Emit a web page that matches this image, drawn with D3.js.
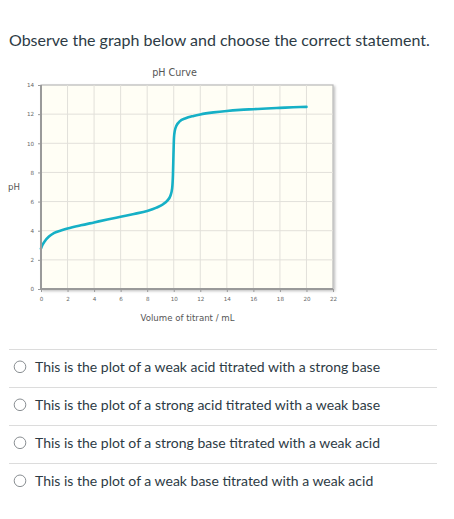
<!DOCTYPE html>
<html><head><meta charset="utf-8">
<script src="https://cdn.jsdelivr.net/npm/d3@7"></script>
<style>
body{margin:0;background:#fff;}
svg{display:block;}
</style></head>
<body>
<svg id="c" width="454" height="519"></svg>
<script>
const questionText = "Observe the graph below and choose the correct statement.";
const chartTitle = "pH Curve";
const xLabel = "Volume of titrant / mL";
const yLabel = "pH";
const xTicks = [0,2,4,6,8,10,12,14,16,18,20,22];
const yTicks = [0,2,4,6,8,10,12,14];
const volume = [0,0.1,0.3,0.6,1,1.5,2,3,4,5,6,7,8,8.7,9.2,9.5,9.75,9.88,9.94,9.98,10.02,10.08,10.2,10.45,10.9,11.5,12,13,14,15,16,17,18,19,20];
const pH =     [2.78,3.0,3.3,3.6,3.85,4.02,4.15,4.37,4.57,4.77,4.96,5.15,5.35,5.58,5.82,6.05,6.4,6.9,7.8,9.2,10.4,10.85,11.2,11.5,11.72,11.88,11.98,12.12,12.22,12.29,12.34,12.39,12.43,12.47,12.5];
const options = [
 "This is the plot of a weak acid titrated with a strong base",
 "This is the plot of a strong acid titrated with a weak base",
 "This is the plot of a strong base titrated with a weak acid",
 "This is the plot of a weak base titrated with a weak acid"
];

const svg = d3.select("#c");
svg.append("text").attr("x",9).attr("y",46)
  .attr("font-family","Lato").attr("font-size",16).attr("fill","#2d3b45")
  .text(questionText);

const L=41,R=333,T=85,B=289;
const x = d3.scaleLinear().domain([0,22]).range([L,R]);
const y = d3.scaleLinear().domain([0,14]).range([B,T]);

const defs = svg.append("defs");
const f = defs.append("filter").attr("id","sh").attr("x","-5%").attr("y","-5%").attr("width","115%").attr("height","115%");
f.append("feDropShadow").attr("dx",1.5).attr("dy",1.5).attr("stdDeviation",1).attr("flood-color","#000").attr("flood-opacity",0.25);

svg.append("rect").attr("x",L).attr("y",T).attr("width",R-L).attr("height",B-T)
  .attr("fill","#fffef5").attr("stroke","#b8b8b8").attr("stroke-width",1.2).attr("filter","url(#sh)");

const g = svg.append("g");
g.selectAll(".vg").data(xTicks.filter(d=>d>0&&d<22)).join("line")
  .attr("x1",d=>x(d)).attr("x2",d=>x(d)).attr("y1",T).attr("y2",B)
  .attr("stroke","#e2e0da").attr("stroke-width",1);
g.selectAll(".hg").data(yTicks.filter(d=>d>0&&d<14)).join("line")
  .attr("x1",L).attr("x2",R).attr("y1",d=>y(d)).attr("y2",d=>y(d))
  .attr("stroke","#e2e0da").attr("stroke-width",1);

const line = d3.line().x((d,i)=>x(volume[i])).y((d,i)=>y(pH[i])).curve(d3.curveMonotoneX);
svg.append("path").datum(pH).attr("d",line).attr("fill","none")
  .attr("stroke","#16b0c6").attr("stroke-width",2.6).attr("stroke-linecap","round");

const xAxis = svg.append("g").attr("transform",`translate(0,${B})`)
  .call(d3.axisBottom(x).tickValues(xTicks).tickSize(3).tickPadding(5));
const yAxis = svg.append("g").attr("transform",`translate(${L},0)`)
  .call(d3.axisLeft(y).tickValues(yTicks).tickSize(3).tickPadding(4));
[xAxis,yAxis].forEach(a=>{
  a.select(".domain").attr("stroke","#9a9a9a").attr("stroke-width",2);
  a.selectAll(".tick line").attr("stroke","#9a9a9a");
  a.selectAll(".tick text").attr("fill","#666").attr("font-family","DejaVu Sans").attr("font-size",5.6);
});
yAxis.select(".domain").attr("d",`M0,${B}V${T}`);
xAxis.select(".domain").attr("d",`M${L},0H${R}`);

svg.append("text").attr("x",174.5).attr("y",76).attr("text-anchor","middle")
  .attr("font-family","DejaVu Sans").attr("font-size",9.6).attr("fill","#555").text(chartTitle);
svg.append("text").attr("x",14).attr("y",190).attr("text-anchor","middle")
  .attr("font-family","DejaVu Sans").attr("font-size",8.6).attr("fill","#555").text(yLabel);
svg.append("text").attr("x",187.5).attr("y",321).attr("text-anchor","middle")
  .attr("font-family","DejaVu Sans").attr("font-size",8.6).attr("fill","#555").text(xLabel);

const rowY = [349.5,387.5,425.5,463.5];
const og = svg.append("g");
og.selectAll(".sep").data(rowY).join("line")
  .attr("x1",9).attr("x2",437).attr("y1",d=>d).attr("y2",d=>d)
  .attr("stroke","#dcdcdc").attr("stroke-width",1);
og.selectAll(".rad").data(options).join("circle")
  .attr("cx",20).attr("cy",(d,i)=>rowY[i]+17.3).attr("r",5.8)
  .attr("fill","#fff").attr("stroke","#8a8f93").attr("stroke-width",1);
og.selectAll(".opt").data(options).join("text")
  .attr("x",35).attr("y",(d,i)=>rowY[i]+22.3)
  .attr("font-family","Lato").attr("font-size",14).attr("fill","#2d3b45")
  .text(d=>d);
</script>
</body></html>
